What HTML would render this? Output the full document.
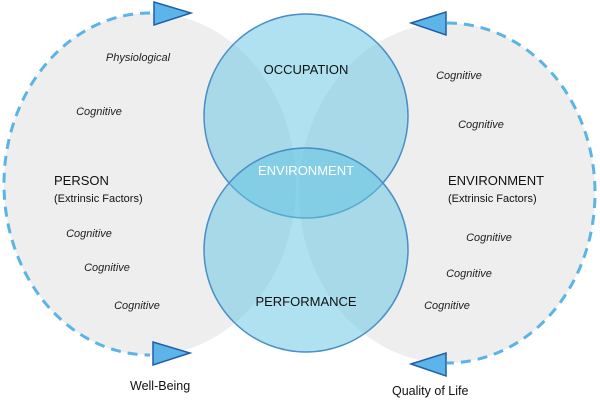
<!DOCTYPE html>
<html><head><style>body{margin:0;background:#fff}svg{display:block}</style></head><body>
<svg width="600" height="404" viewBox="0 0 600 404" xmlns="http://www.w3.org/2000/svg" font-family="Liberation Sans, sans-serif">
<ellipse cx="150" cy="184" rx="146" ry="171" fill="#efeeee"/>
<ellipse cx="447" cy="193" rx="148" ry="170" fill="#efeeee"/>
<path d="M150 13 A146 171 0 0 0 150 355" fill="none" stroke="#5ab4e6" stroke-width="3" stroke-dasharray="10 7"/>
<path d="M447 23 A148 170 0 0 1 447 363" fill="none" stroke="#5ab4e6" stroke-width="3" stroke-dasharray="10 7"/>
<circle cx="306" cy="116" r="102" fill="rgba(95,195,225,0.5)" stroke="#4a8fc6" stroke-width="1.5"/>
<circle cx="306" cy="250" r="102" fill="rgba(95,195,225,0.5)" stroke="#4a8fc6" stroke-width="1.5"/>
<g fill="#5db4e8" stroke="#1f5fa8" stroke-width="1.5">
<polygon points="154,2 154,25 191,13"/>
<polygon points="153,342 153,365 190,353"/>
<polygon points="411,23 446,12 446,35"/>
<polygon points="411,364 446,353 446,376"/>
</g>
<g font-size="11" font-style="italic" fill="#222" text-anchor="middle">
<text x="138" y="61">Physiological</text>
<text x="99" y="115">Cognitive</text>
<text x="89" y="237">Cognitive</text>
<text x="107" y="271">Cognitive</text>
<text x="137" y="309">Cognitive</text>
<text x="459" y="79">Cognitive</text>
<text x="481" y="128">Cognitive</text>
<text x="489" y="241">Cognitive</text>
<text x="469" y="277">Cognitive</text>
<text x="447" y="309">Cognitive</text>
</g>
<g font-size="13" fill="#111">
<text x="54" y="185">PERSON</text>
<text x="54" y="202" font-size="11">(Extrinsic Factors)</text>
<text x="448" y="185">ENVIRONMENT</text>
<text x="448" y="202" font-size="11">(Extrinsic Factors)</text>
<text x="306" y="74" text-anchor="middle">OCCUPATION</text>
<text x="306" y="306" text-anchor="middle">PERFORMANCE</text>
<text x="306" y="175" text-anchor="middle" fill="#fff">ENVIRONMENT</text>
<text x="130" y="390" font-size="12.5">Well-Being</text>
<text x="392" y="395" font-size="12.5">Quality of Life</text>
</g>
</svg>
</body></html>
